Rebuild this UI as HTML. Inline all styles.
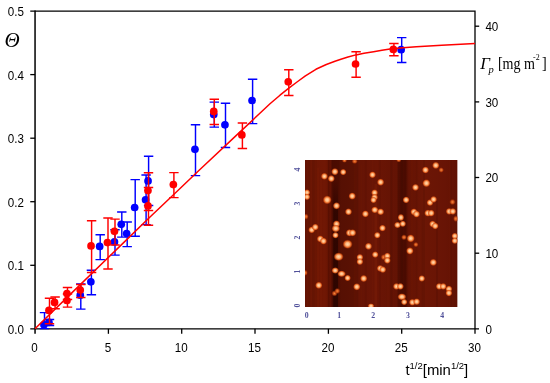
<!DOCTYPE html>
<html><head><meta charset="utf-8"><title>Coverage vs sqrt time</title>
<style>
html,body{margin:0;padding:0;background:#fff;}
body{width:550px;height:383px;overflow:hidden;}
svg{display:block;}
.t{font-family:"Liberation Sans",Arial,sans-serif;font-size:12.5px;fill:#000;}
.s{font-family:"Liberation Serif","Times New Roman",serif;fill:#000;}
.a{font-family:"Liberation Serif",serif;font-size:7.8px;font-weight:bold;fill:#50509a;}
</style></head><body>
<svg width="550" height="383" viewBox="0 0 550 383">
<defs>
<linearGradient id="bg" x1="0" y1="0" x2="1" y2="0">
<stop offset="0" stop-color="#611203"/>
<stop offset="0.03" stop-color="#6c1604"/>
<stop offset="0.13" stop-color="#701704"/>
<stop offset="0.165" stop-color="#661303"/>
<stop offset="0.18" stop-color="#4a0b01"/>
<stop offset="0.22" stop-color="#4c0c01"/>
<stop offset="0.235" stop-color="#561003"/>
<stop offset="0.32" stop-color="#5a1103"/>
<stop offset="0.35" stop-color="#651405"/>
<stop offset="0.48" stop-color="#6a1505"/>
<stop offset="0.60" stop-color="#631304"/>
<stop offset="0.625" stop-color="#4c0c02"/>
<stop offset="0.66" stop-color="#4e0d02"/>
<stop offset="0.68" stop-color="#641304"/>
<stop offset="0.78" stop-color="#6c1605"/>
<stop offset="0.92" stop-color="#681405"/>
<stop offset="1" stop-color="#5e1103"/>
</linearGradient>
<radialGradient id="d">
<stop offset="0" stop-color="#ffdcb4"/>
<stop offset="0.38" stop-color="#ffb478"/>
<stop offset="0.68" stop-color="#ea6420" stop-opacity="0.9"/>
<stop offset="1" stop-color="#8a2205" stop-opacity="0"/>
</radialGradient>
<radialGradient id="m">
<stop offset="0" stop-color="#f88a3c"/>
<stop offset="0.5" stop-color="#d8541a" stop-opacity="0.85"/>
<stop offset="1" stop-color="#8a2205" stop-opacity="0"/>
</radialGradient>
<linearGradient id="dk" x1="0" y1="0" x2="0" y2="1">
<stop offset="0" stop-color="#260400" stop-opacity="0"/>
<stop offset="0.25" stop-color="#260400" stop-opacity="0.7"/>
<stop offset="1" stop-color="#260400" stop-opacity="0.8"/>
</linearGradient>
<filter id="bl" x="-5%" y="-5%" width="110%" height="110%"><feGaussianBlur stdDeviation="0.55"/></filter>
<clipPath id="ic"><rect x="305" y="160" width="152.6" height="147"/></clipPath>
</defs>
<rect width="550" height="383" fill="#fff"/>

<g clip-path="url(#ic)">
<rect x="305" y="160" width="152.6" height="147" fill="url(#bg)"/>
<rect x="333.2" y="180" width="4.8" height="128" fill="url(#dk)"/>
<rect x="354.2" y="160" width="1.1" height="147" fill="#a03010" opacity="0.06"/>
<rect x="360.6" y="165" width="0.9" height="142" fill="#a03010" opacity="0.08"/>
<rect x="315.6" y="160" width="1.0" height="147" fill="#2a0500" opacity="0.07"/>
<rect x="400.9" y="160" width="2.1" height="147" fill="#2a0500" opacity="0.12"/>
<rect x="312.1" y="160" width="2.7" height="147" fill="#2a0500" opacity="0.10"/>
<rect x="390.2" y="160" width="2.3" height="147" fill="#2a0500" opacity="0.12"/>
<rect x="319.8" y="172" width="2.4" height="135" fill="#a03010" opacity="0.07"/>
<rect x="423.1" y="160" width="1.8" height="147" fill="#2a0500" opacity="0.10"/>
<rect x="411.2" y="160" width="1.3" height="147" fill="#a03010" opacity="0.09"/>
<rect x="415.9" y="160" width="1.4" height="147" fill="#2a0500" opacity="0.07"/>
<rect x="328.1" y="160" width="1.9" height="147" fill="#2a0500" opacity="0.16"/>
<rect x="356.7" y="160" width="1.6" height="147" fill="#2a0500" opacity="0.12"/>
<rect x="448.6" y="160" width="1.8" height="147" fill="#a03010" opacity="0.07"/>
<rect x="403.4" y="160" width="3.0" height="147" fill="#2a0500" opacity="0.09"/>
<rect x="308.4" y="160" width="1.8" height="147" fill="#2a0500" opacity="0.12"/>
<rect x="421.8" y="215" width="1.1" height="92" fill="#2a0500" opacity="0.10"/>
<rect x="317.2" y="168" width="1.8" height="139" fill="#a03010" opacity="0.09"/>
<rect x="436.3" y="201" width="1.4" height="106" fill="#2a0500" opacity="0.16"/>
<rect x="450.6" y="160" width="1.1" height="147" fill="#2a0500" opacity="0.08"/>
<rect x="378.7" y="160" width="2.1" height="147" fill="#2a0500" opacity="0.09"/>
<rect x="397.7" y="160" width="1.5" height="147" fill="#2a0500" opacity="0.13"/>
<rect x="374.4" y="184" width="2.7" height="123" fill="#a03010" opacity="0.14"/>
<rect x="364.9" y="160" width="1.9" height="147" fill="#2a0500" opacity="0.07"/>
<rect x="372.0" y="160" width="1.0" height="147" fill="#a03010" opacity="0.07"/>
<rect x="386.6" y="212" width="2.9" height="95" fill="#a03010" opacity="0.06"/>
<rect x="327.6" y="160" width="1.4" height="147" fill="#2a0500" opacity="0.12"/>
<g filter="url(#bl)">
<ellipse cx="354.7" cy="161.3" rx="3.3" ry="2.9" fill="url(#m)"/>
<ellipse cx="344.5" cy="160.6" rx="2.8" ry="2.3" fill="url(#m)"/>
<ellipse cx="398.8" cy="160.2" rx="2.8" ry="2.3" fill="url(#m)"/>
<ellipse cx="334.9" cy="171.7" rx="3.9" ry="3.9" fill="url(#d)"/>
<ellipse cx="343.2" cy="172.1" rx="3.5" ry="3.5" fill="url(#d)"/>
<ellipse cx="324.4" cy="176.3" rx="3.8" ry="3.8" fill="url(#d)"/>
<ellipse cx="331.3" cy="178.6" rx="3.8" ry="3.8" fill="url(#d)"/>
<ellipse cx="372.5" cy="174.8" rx="3.7" ry="3.7" fill="url(#d)"/>
<ellipse cx="380.6" cy="182.2" rx="3.9" ry="3.9" fill="url(#d)"/>
<circle cx="307.0" cy="192.5" r="3.5" fill="url(#d)"/>
<circle cx="307.0" cy="196.9" r="3.5" fill="url(#d)"/>
<ellipse cx="327.2" cy="199.9" rx="4.7" ry="4.7" fill="url(#d)"/>
<ellipse cx="352.2" cy="196.1" rx="3.9" ry="3.9" fill="url(#d)"/>
<circle cx="374.6" cy="192.7" r="3.7" fill="url(#d)"/>
<circle cx="374.6" cy="197.3" r="3.7" fill="url(#d)"/>
<ellipse cx="373.5" cy="200.0" rx="3.5" ry="3.5" fill="url(#d)"/>
<ellipse cx="336.5" cy="205.8" rx="3.9" ry="3.9" fill="url(#d)"/>
<ellipse cx="348.5" cy="211.8" rx="3.8" ry="3.8" fill="url(#d)"/>
<ellipse cx="365.4" cy="213.9" rx="3.8" ry="3.8" fill="url(#d)"/>
<ellipse cx="374.8" cy="209.9" rx="3.9" ry="3.7" fill="url(#d)"/>
<ellipse cx="380.6" cy="211.8" rx="3.9" ry="3.7" fill="url(#d)"/>
<ellipse cx="306.0" cy="216.6" rx="2.8" ry="3.3" fill="url(#m)"/>
<circle cx="311.7" cy="229.9" r="3.7" fill="url(#d)"/>
<circle cx="315.3" cy="227.1" r="3.7" fill="url(#d)"/>
<ellipse cx="336.5" cy="224.0" rx="3.9" ry="3.9" fill="url(#d)"/>
<ellipse cx="335.8" cy="228.5" rx="4.5" ry="4.1" fill="url(#d)"/>
<circle cx="349.4" cy="232.8" r="3.9" fill="url(#d)"/>
<circle cx="352.6" cy="232.8" r="3.9" fill="url(#d)"/>
<ellipse cx="382.5" cy="228.1" rx="3.7" ry="3.7" fill="url(#d)"/>
<ellipse cx="435.8" cy="165.4" rx="3.9" ry="3.9" fill="url(#d)"/>
<ellipse cx="425.5" cy="170.0" rx="3.8" ry="3.8" fill="url(#d)"/>
<ellipse cx="441.2" cy="170.0" rx="2.9" ry="2.9" fill="url(#m)"/>
<ellipse cx="426.4" cy="183.2" rx="4.3" ry="4.3" fill="url(#d)"/>
<ellipse cx="415.5" cy="187.4" rx="3.8" ry="3.8" fill="url(#d)"/>
<ellipse cx="406.1" cy="199.9" rx="3.7" ry="3.7" fill="url(#d)"/>
<circle cx="430.0" cy="202.6" r="3.7" fill="url(#d)"/>
<circle cx="433.6" cy="199.4" r="3.7" fill="url(#d)"/>
<ellipse cx="452.5" cy="202.0" rx="3.3" ry="3.3" fill="url(#m)"/>
<circle cx="413.9" cy="211.9" r="3.8" fill="url(#d)"/>
<circle cx="416.5" cy="214.1" r="3.8" fill="url(#d)"/>
<circle cx="427.8" cy="213.1" r="3.8" fill="url(#d)"/>
<circle cx="431.2" cy="213.1" r="3.8" fill="url(#d)"/>
<circle cx="449.2" cy="211.4" r="3.7" fill="url(#d)"/>
<circle cx="452.8" cy="211.4" r="3.7" fill="url(#d)"/>
<ellipse cx="400.9" cy="217.5" rx="3.5" ry="3.9" fill="url(#d)"/>
<ellipse cx="397.5" cy="225.0" rx="3.7" ry="3.5" fill="url(#d)"/>
<ellipse cx="402.8" cy="223.8" rx="3.5" ry="3.5" fill="url(#d)"/>
<circle cx="432.6" cy="224.0" r="3.7" fill="url(#d)"/>
<circle cx="435.2" cy="226.0" r="3.7" fill="url(#d)"/>
<ellipse cx="455.8" cy="218.7" rx="2.9" ry="3.5" fill="url(#m)"/>
<ellipse cx="335.5" cy="235.2" rx="3.5" ry="3.5" fill="url(#d)"/>
<ellipse cx="377.3" cy="235.2" rx="3.6" ry="3.6" fill="url(#d)"/>
<circle cx="320.3" cy="238.9" r="3.8" fill="url(#d)"/>
<circle cx="323.5" cy="241.1" r="3.8" fill="url(#d)"/>
<ellipse cx="347.6" cy="244.2" rx="5.3" ry="4.9" fill="url(#d)"/>
<ellipse cx="368.5" cy="246.3" rx="3.9" ry="3.9" fill="url(#d)"/>
<ellipse cx="375.2" cy="254.6" rx="3.6" ry="3.6" fill="url(#d)"/>
<ellipse cx="338.6" cy="256.7" rx="5.3" ry="4.5" fill="url(#d)"/>
<circle cx="359.9" cy="257.3" r="3.7" fill="url(#d)"/>
<circle cx="359.9" cy="261.7" r="3.7" fill="url(#d)"/>
<ellipse cx="383.5" cy="257.2" rx="2.9" ry="3.3" fill="url(#m)"/>
<circle cx="380.2" cy="268.4" r="3.7" fill="url(#d)"/>
<circle cx="382.8" cy="269.6" r="3.7" fill="url(#d)"/>
<ellipse cx="335.2" cy="270.5" rx="3.9" ry="3.5" fill="url(#d)"/>
<ellipse cx="341.6" cy="273.8" rx="4.5" ry="3.5" fill="url(#d)"/>
<ellipse cx="347.6" cy="278.0" rx="3.5" ry="3.5" fill="url(#d)"/>
<ellipse cx="363.7" cy="278.5" rx="3.9" ry="3.9" fill="url(#d)"/>
<ellipse cx="305.4" cy="272.8" rx="2.5" ry="3.3" fill="url(#m)"/>
<ellipse cx="318.8" cy="285.3" rx="3.9" ry="3.9" fill="url(#d)"/>
<ellipse cx="356.8" cy="286.8" rx="3.9" ry="3.9" fill="url(#d)"/>
<circle cx="334.5" cy="293.4" r="3.2" fill="url(#m)"/>
<circle cx="337.3" cy="291.0" r="3.2" fill="url(#m)"/>
<ellipse cx="371.0" cy="306.0" rx="3.5" ry="2.9" fill="url(#d)"/>
<ellipse cx="410.7" cy="238.4" rx="4.3" ry="4.3" fill="url(#d)"/>
<ellipse cx="404.0" cy="237.3" rx="3.1" ry="3.1" fill="url(#m)"/>
<ellipse cx="415.9" cy="244.6" rx="2.9" ry="2.9" fill="url(#m)"/>
<ellipse cx="409.9" cy="250.9" rx="4.0" ry="4.0" fill="url(#d)"/>
<circle cx="454.8" cy="236.0" r="3.5" fill="url(#d)"/>
<circle cx="454.8" cy="240.8" r="3.5" fill="url(#d)"/>
<circle cx="387.3" cy="256.0" r="3.7" fill="url(#d)"/>
<circle cx="387.3" cy="260.4" r="3.7" fill="url(#d)"/>
<ellipse cx="433.3" cy="262.4" rx="3.9" ry="3.9" fill="url(#d)"/>
<ellipse cx="421.8" cy="278.5" rx="3.6" ry="3.6" fill="url(#d)"/>
<circle cx="396.4" cy="286.4" r="3.7" fill="url(#d)"/>
<circle cx="400.4" cy="286.4" r="3.7" fill="url(#d)"/>
<circle cx="439.2" cy="286.4" r="3.7" fill="url(#d)"/>
<circle cx="443.2" cy="286.4" r="3.7" fill="url(#d)"/>
<circle cx="448.9" cy="289.0" r="3.7" fill="url(#d)"/>
<circle cx="448.9" cy="293.0" r="3.7" fill="url(#d)"/>
<ellipse cx="401.9" cy="296.8" rx="4.7" ry="3.7" fill="url(#d)"/>
<ellipse cx="404.2" cy="302.0" rx="3.5" ry="3.5" fill="url(#d)"/>
<circle cx="412.3" cy="302.3" r="3.7" fill="url(#d)"/>
<circle cx="416.7" cy="301.7" r="3.7" fill="url(#d)"/>
</g></g>
<text class="a" x="306.7" y="317.9" text-anchor="middle">0</text>
<text class="a" transform="translate(300.2 305.5) rotate(-90)" text-anchor="middle">0</text>
<text class="a" x="339.3" y="317.9" text-anchor="middle">1</text>
<text class="a" transform="translate(300.2 271.5) rotate(-90)" text-anchor="middle">1</text>
<text class="a" x="373.3" y="317.9" text-anchor="middle">2</text>
<text class="a" transform="translate(300.2 237.5) rotate(-90)" text-anchor="middle">2</text>
<text class="a" x="407.9" y="317.9" text-anchor="middle">3</text>
<text class="a" transform="translate(300.2 203.5) rotate(-90)" text-anchor="middle">3</text>
<text class="a" x="442.1" y="317.9" text-anchor="middle">4</text>
<text class="a" transform="translate(300.2 169.5) rotate(-90)" text-anchor="middle">4</text>
<g stroke="#000" stroke-width="1.3" fill="none" stroke-linecap="butt">
<path d="M30.249999999999996 11.1H475.65M475.0 11.1V329.45M479.0 328.8H30.249999999999996"/>
<path d="M35.05 10.45V333.8" stroke-width="1.5"/>
<path d="M30.249999999999996 265.3H35.05"/>
<path d="M30.249999999999996 201.7H35.05"/>
<path d="M30.249999999999996 138.2H35.05"/>
<path d="M30.249999999999996 74.6H35.05"/>
<path d="M108.4 328.8V333.8"/>
<path d="M181.7 328.8V333.8"/>
<path d="M255.0 328.8V333.8"/>
<path d="M328.4 328.8V333.8"/>
<path d="M401.7 328.8V333.8"/>
<path d="M475.0 328.8V333.8"/>
<path d="M475.0 253.2H479.2"/>
<path d="M475.0 177.5H479.2"/>
<path d="M475.0 101.9H479.2"/>
<path d="M475.0 26.2H479.2"/>
</g>
<text class="t" transform="translate(23.9 333.7) scale(0.93 1)" text-anchor="end">0.0</text>
<text class="t" transform="translate(23.9 270.2) scale(0.93 1)" text-anchor="end">0.1</text>
<text class="t" transform="translate(23.9 206.6) scale(0.93 1)" text-anchor="end">0.2</text>
<text class="t" transform="translate(23.9 143.1) scale(0.93 1)" text-anchor="end">0.3</text>
<text class="t" transform="translate(23.9 79.5) scale(0.93 1)" text-anchor="end">0.4</text>
<text class="t" transform="translate(23.9 16.0) scale(0.93 1)" text-anchor="end">0.5</text>
<text class="t" transform="translate(34.5 351.9) scale(0.93 1)" text-anchor="middle">0</text>
<text class="t" transform="translate(107.9 351.9) scale(0.93 1)" text-anchor="middle">5</text>
<text class="t" transform="translate(181.2 351.9) scale(0.93 1)" text-anchor="middle">10</text>
<text class="t" transform="translate(254.5 351.9) scale(0.93 1)" text-anchor="middle">15</text>
<text class="t" transform="translate(327.9 351.9) scale(0.93 1)" text-anchor="middle">20</text>
<text class="t" transform="translate(401.2 351.9) scale(0.93 1)" text-anchor="middle">25</text>
<text class="t" transform="translate(474.5 351.9) scale(0.93 1)" text-anchor="middle">30</text>
<text class="t" transform="translate(485.4 333.7) scale(0.93 1)">0</text>
<text class="t" transform="translate(485.4 258.1) scale(0.93 1)">10</text>
<text class="t" transform="translate(485.4 182.4) scale(0.93 1)">20</text>
<text class="t" transform="translate(485.4 106.8) scale(0.93 1)">30</text>
<text class="t" transform="translate(485.4 31.1) scale(0.93 1)">40</text>
<text class="s" x="4.6" y="47" font-size="21" font-style="italic">Θ</text>
<text class="s" x="480.3" y="69" font-size="17" font-style="italic">Γ</text>
<text class="s" x="488.6" y="72.6" font-size="10.5" font-style="italic">p</text>
<text class="s" transform="translate(497.9 69) scale(0.88 1)" font-size="16">[mg m<tspan font-size="9" dy="-8.6" dx="-2.2">-2</tspan><tspan dy="8.6" dx="2.6">]</tspan></text>
<text class="t" x="405.4" y="375.4" style="font-size:14.9px">t<tspan style="font-size:9.5px" dy="-6.6">1/2</tspan><tspan dy="6.6">[min</tspan><tspan style="font-size:9.5px" dy="-6.6">1/2</tspan><tspan dy="6.6">]</tspan></text>
<path d="M39.8 312.6H49.2M39.8 328.6H49.2M44.5 312.6V328.6" stroke="#00f" stroke-width="1.45" fill="none"/>
<circle cx="43.95" cy="324.8" r="3.85" fill="#00f"/>
<path d="M44.8 319.5H54.2M44.8 325.5H54.2M49.5 319.5V325.5" stroke="#00f" stroke-width="1.45" fill="none"/>
<circle cx="48.95" cy="322.4" r="3.85" fill="#00f"/>
<path d="M76.1 284.0H85.5M76.1 309.1H85.5M80.8 284.0V309.1" stroke="#00f" stroke-width="1.45" fill="none"/>
<circle cx="80.25" cy="295.2" r="3.85" fill="#00f"/>
<path d="M86.7 270.2H96.1M86.7 294.8H96.1M91.4 270.2V294.8" stroke="#00f" stroke-width="1.45" fill="none"/>
<circle cx="90.85" cy="281.8" r="3.85" fill="#00f"/>
<path d="M95.5 234.7H104.9M95.5 259.6H104.9M100.2 234.7V259.6" stroke="#00f" stroke-width="1.45" fill="none"/>
<circle cx="99.65" cy="246.4" r="3.85" fill="#00f"/>
<path d="M110.3 229.7H119.7M110.3 255.1H119.7M115.0 229.7V255.1" stroke="#00f" stroke-width="1.45" fill="none"/>
<circle cx="114.45" cy="241.9" r="3.85" fill="#00f"/>
<path d="M117.1 212.0H126.5M117.1 237.1H126.5M121.8 212.0V237.1" stroke="#00f" stroke-width="1.45" fill="none"/>
<circle cx="121.25" cy="224.3" r="3.85" fill="#00f"/>
<path d="M122.5 221.9H131.9M122.5 246.6H131.9M127.2 221.9V246.6" stroke="#00f" stroke-width="1.45" fill="none"/>
<circle cx="126.65" cy="233.6" r="3.85" fill="#00f"/>
<path d="M130.5 179.6H139.9M130.5 236.3H139.9M135.2 179.6V236.3" stroke="#00f" stroke-width="1.45" fill="none"/>
<circle cx="134.65" cy="207.5" r="3.85" fill="#00f"/>
<path d="M143.9 156.2H153.3M143.9 205.5H153.3M148.6 156.2V205.5" stroke="#00f" stroke-width="1.45" fill="none"/>
<circle cx="148.05" cy="180.9" r="3.85" fill="#00f"/>
<path d="M141.4 175.0H150.8M141.4 224.6H150.8M146.1 175.0V224.6" stroke="#00f" stroke-width="1.45" fill="none"/>
<circle cx="145.55" cy="199.8" r="3.85" fill="#00f"/>
<path d="M190.8 124.8H200.2M190.8 175.6H200.2M195.5 124.8V175.6" stroke="#00f" stroke-width="1.45" fill="none"/>
<circle cx="194.95" cy="149.3" r="3.85" fill="#00f"/>
<path d="M209.6 102.1H219.0M209.6 127.1H219.0M214.3 102.1V127.1" stroke="#00f" stroke-width="1.45" fill="none"/>
<circle cx="213.75" cy="114.6" r="3.85" fill="#00f"/>
<path d="M220.8 103.2H230.2M220.8 147.4H230.2M225.5 103.2V147.4" stroke="#00f" stroke-width="1.45" fill="none"/>
<circle cx="224.95" cy="124.8" r="3.85" fill="#00f"/>
<path d="M247.9 79.3H257.3M247.9 123.6H257.3M252.6 79.3V123.6" stroke="#00f" stroke-width="1.45" fill="none"/>
<circle cx="252.05" cy="100.5" r="3.85" fill="#00f"/>
<path d="M397.0 37.6H406.4M397.0 62.5H406.4M401.7 37.6V62.5" stroke="#00f" stroke-width="1.45" fill="none"/>
<circle cx="401.15" cy="49.7" r="3.85" fill="#00f"/>
<path d="M44.8 298.2H54.2M44.8 323.7H54.2M49.5 298.2V323.7" stroke="#f00" stroke-width="1.45" fill="none"/>
<circle cx="48.95" cy="310.4" r="3.85" fill="#f00"/>
<path d="M50.4 296.9H59.8M50.4 308.8H59.8M55.1 296.9V308.8" stroke="#f00" stroke-width="1.45" fill="none"/>
<circle cx="54.55" cy="302.4" r="3.85" fill="#f00"/>
<path d="M62.8 294H72.2M62.8 307.1H72.2M67.5 294V307.1" stroke="#f00" stroke-width="1.45" fill="none"/>
<circle cx="66.95" cy="300.5" r="3.85" fill="#f00"/>
<path d="M62.8 287.5H72.2M62.8 299.5H72.2M67.5 287.5V299.5" stroke="#f00" stroke-width="1.45" fill="none"/>
<circle cx="66.95" cy="293.5" r="3.85" fill="#f00"/>
<path d="M76.1 284.4H85.5M76.1 297.4H85.5M80.8 284.4V297.4" stroke="#f00" stroke-width="1.45" fill="none"/>
<circle cx="80.25" cy="290.0" r="3.85" fill="#f00"/>
<path d="M86.9 220.8H96.3M86.9 272.5H96.3M91.6 220.8V272.5" stroke="#f00" stroke-width="1.45" fill="none"/>
<circle cx="91.05" cy="245.9" r="3.85" fill="#f00"/>
<path d="M103.3 218.0H112.7M103.3 268.9H112.7M108.0 218.0V268.9" stroke="#f00" stroke-width="1.45" fill="none"/>
<circle cx="107.45" cy="242.6" r="3.85" fill="#f00"/>
<path d="M110.3 219.1H119.7M110.3 244.9H119.7M115.0 219.1V244.9" stroke="#f00" stroke-width="1.45" fill="none"/>
<circle cx="114.45" cy="231.3" r="3.85" fill="#f00"/>
<path d="M143.8 172.7H153.2M143.8 210.5H153.2M148.5 172.7V210.5" stroke="#f00" stroke-width="1.45" fill="none"/>
<circle cx="147.95" cy="190.5" r="3.85" fill="#f00"/>
<path d="M143.8 187.5H153.2M143.8 225.3H153.2M148.5 187.5V225.3" stroke="#f00" stroke-width="1.45" fill="none"/>
<circle cx="147.95" cy="205.9" r="3.85" fill="#f00"/>
<path d="M169.2 172.6H178.6M169.2 197.6H178.6M173.9 172.6V197.6" stroke="#f00" stroke-width="1.45" fill="none"/>
<circle cx="173.35" cy="184.6" r="3.85" fill="#f00"/>
<path d="M209.6 99.3H219.0M209.6 124.5H219.0M214.3 99.3V124.5" stroke="#f00" stroke-width="1.45" fill="none"/>
<circle cx="213.75" cy="111.4" r="3.85" fill="#f00"/>
<path d="M237.7 123.0H247.1M237.7 148.4H247.1M242.4 123.0V148.4" stroke="#f00" stroke-width="1.45" fill="none"/>
<circle cx="241.85" cy="134.9" r="3.85" fill="#f00"/>
<path d="M284.1 69.7H293.5M284.1 95.4H293.5M288.8 69.7V95.4" stroke="#f00" stroke-width="1.45" fill="none"/>
<circle cx="288.25" cy="81.8" r="3.85" fill="#f00"/>
<path d="M351.4 51.7H360.8M351.4 77.3H360.8M356.1 51.7V77.3" stroke="#f00" stroke-width="1.45" fill="none"/>
<circle cx="355.55" cy="64.0" r="3.85" fill="#f00"/>
<path d="M389.2 43.5H398.6M389.2 55.8H398.6M393.9 43.5V55.8" stroke="#f00" stroke-width="1.45" fill="none"/>
<circle cx="393.35" cy="49.4" r="3.85" fill="#f00"/>
<path d="M35.0 328.8 L71.0 293.6 L119.5 246.6 L150.0 217.0 L171.1 197.0 L199.4 170.0 L235.0 136.6 L270.0 103.8 L280.0 95.2 L288.5 88.3 L297.0 82.0 L305.4 75.9 L315.9 69.3 L326.3 64.5 L335.0 61.2 L340.9 59.2 L348.0 57.0 L355.9 54.9 L364.0 53.3 L373.6 51.7 L382.0 50.2 L390.0 49.1 L403.0 47.8 L416.3 46.7 L441.8 45.2 L475.0 43.6" fill="none" stroke="#f00" stroke-width="1.5" stroke-linejoin="round"/>
</svg></body></html>
